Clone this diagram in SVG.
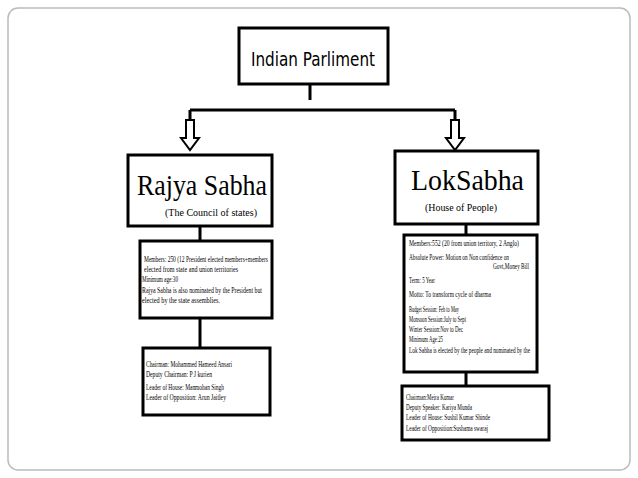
<svg xmlns="http://www.w3.org/2000/svg" width="638" height="478" viewBox="0 0 638 478">
<style>
.b{fill:#fff;stroke:#000;stroke-width:3}
.l{stroke:#000;stroke-width:3;fill:none}
.s{font-family:"Liberation Serif",serif;font-size:7.5px;fill:#000}
.h{font-family:"Liberation Serif",serif;fill:#000}
</style>
<rect width="638" height="478" fill="#fff"/>
<rect x="8" y="8" width="622" height="462" rx="10" fill="none" stroke="#bbb" stroke-width="1.5"/>
<g id="connectors">
<path class="l" d="M310 84V100M190 110H455M200 226V241M200 318V348M466 224V235M466 372V386"/>
<path d="M190 110V120M455 110V120" class="l"/>
<path d="M186 120H194V138H199L190 150L181 138H186Z" fill="#fff" stroke="#000" stroke-width="2"/>
<path d="M451 120H459V138H464L455 150L446 138H451Z" fill="#fff" stroke="#000" stroke-width="2"/>
</g>
<g id="title"><rect class="b" x="239" y="28" width="149" height="56"/>
<text x="313" y="66" text-anchor="middle" font-family="'DejaVu Sans Condensed','DejaVu Sans',sans-serif" font-size="19" textLength="124" lengthAdjust="spacingAndGlyphs">Indian Parliment</text></g>
<g id="rajya"><rect class="b" x="128" y="155" width="144" height="71"/>
<text class="h" x="137" y="195" font-size="29" textLength="130" lengthAdjust="spacingAndGlyphs">Rajya Sabha</text>
<text class="h" x="165" y="216" font-size="11" textLength="92" lengthAdjust="spacingAndGlyphs">(The Council of states)</text></g>
<g id="lok"><rect class="b" x="395" y="151" width="143" height="73"/>
<text class="h" x="411" y="190" font-size="29" textLength="113" lengthAdjust="spacingAndGlyphs">LokSabha</text>
<text class="h" x="425" y="211" font-size="11" textLength="72" lengthAdjust="spacingAndGlyphs">(House of People)</text></g>
<g id="rajya-info"><rect class="b" x="140" y="241" width="132" height="77"/>
<text class="s" x="144" y="262" textLength="124" lengthAdjust="spacingAndGlyphs">Members: 250 (12 President elected members+members</text>
<text class="s" x="144" y="272" textLength="94" lengthAdjust="spacingAndGlyphs">elected from state and union territories</text>
<text class="s" x="142" y="282" textLength="36" lengthAdjust="spacingAndGlyphs">Minimum age:30</text>
<text class="s" x="142" y="293" textLength="120" lengthAdjust="spacingAndGlyphs">Rajya Sabha is also nominated by the President but</text>
<text class="s" x="142" y="303" textLength="78" lengthAdjust="spacingAndGlyphs">elected by the state assemblies.</text></g>
<g id="rajya-leaders"><rect class="b" x="143" y="348" width="127" height="67"/>
<text class="s" x="146" y="367" textLength="86" lengthAdjust="spacingAndGlyphs">Chairman: Mohammed Hameed Ansari</text>
<text class="s" x="146" y="377" textLength="66" lengthAdjust="spacingAndGlyphs">Deputy Chairman: P J kurien</text>
<text class="s" x="146" y="390" textLength="78" lengthAdjust="spacingAndGlyphs">Leader of House: Manmohan Singh</text>
<text class="s" x="146" y="400" textLength="80" lengthAdjust="spacingAndGlyphs">Leader of Opposition: Arun Jaitley</text></g>
<g id="lok-info"><rect class="b" x="404" y="235" width="133" height="137"/>
<text class="s" x="409" y="246" textLength="110" lengthAdjust="spacingAndGlyphs">Members:552 (20 from union territory, 2 Anglo)</text>
<text class="s" x="409" y="260" textLength="100" lengthAdjust="spacingAndGlyphs">Absolute Power: Motion on Non confidence on</text>
<text class="s" x="493" y="269" textLength="36" lengthAdjust="spacingAndGlyphs">Govt,Money Bill</text>
<text class="s" x="409" y="283" textLength="26" lengthAdjust="spacingAndGlyphs">Term: 5 Year</text>
<text class="s" x="409" y="297" textLength="82" lengthAdjust="spacingAndGlyphs">Motto: To transform cycle of dharma</text>
<text class="s" x="409" y="312" textLength="50" lengthAdjust="spacingAndGlyphs">Budget Session: Feb to May</text>
<text class="s" x="409" y="322" textLength="57" lengthAdjust="spacingAndGlyphs">Monsoon Session:July to Sept</text>
<text class="s" x="409" y="332" textLength="54" lengthAdjust="spacingAndGlyphs">Winter Session:Nov to Dec</text>
<text class="s" x="409" y="342" textLength="34" lengthAdjust="spacingAndGlyphs">Minimum Age:25</text>
<text class="s" x="409" y="353" textLength="121" lengthAdjust="spacingAndGlyphs">Lok Sabha is elected by the people and nominated by the</text></g>
<g id="lok-leaders"><rect class="b" x="402" y="386" width="147" height="54"/>
<text class="s" x="406" y="400" textLength="48" lengthAdjust="spacingAndGlyphs">Chairman:Meira Kumar</text>
<text class="s" x="406" y="410" textLength="66" lengthAdjust="spacingAndGlyphs">Deputy Speaker: Kariya Munda</text>
<text class="s" x="406" y="420" textLength="84" lengthAdjust="spacingAndGlyphs">Leader of House: Sushil Kumar Shinde</text>
<text class="s" x="406" y="431" textLength="82" lengthAdjust="spacingAndGlyphs">Leader of Opposition:Sushama swaraj</text></g>
</svg>
